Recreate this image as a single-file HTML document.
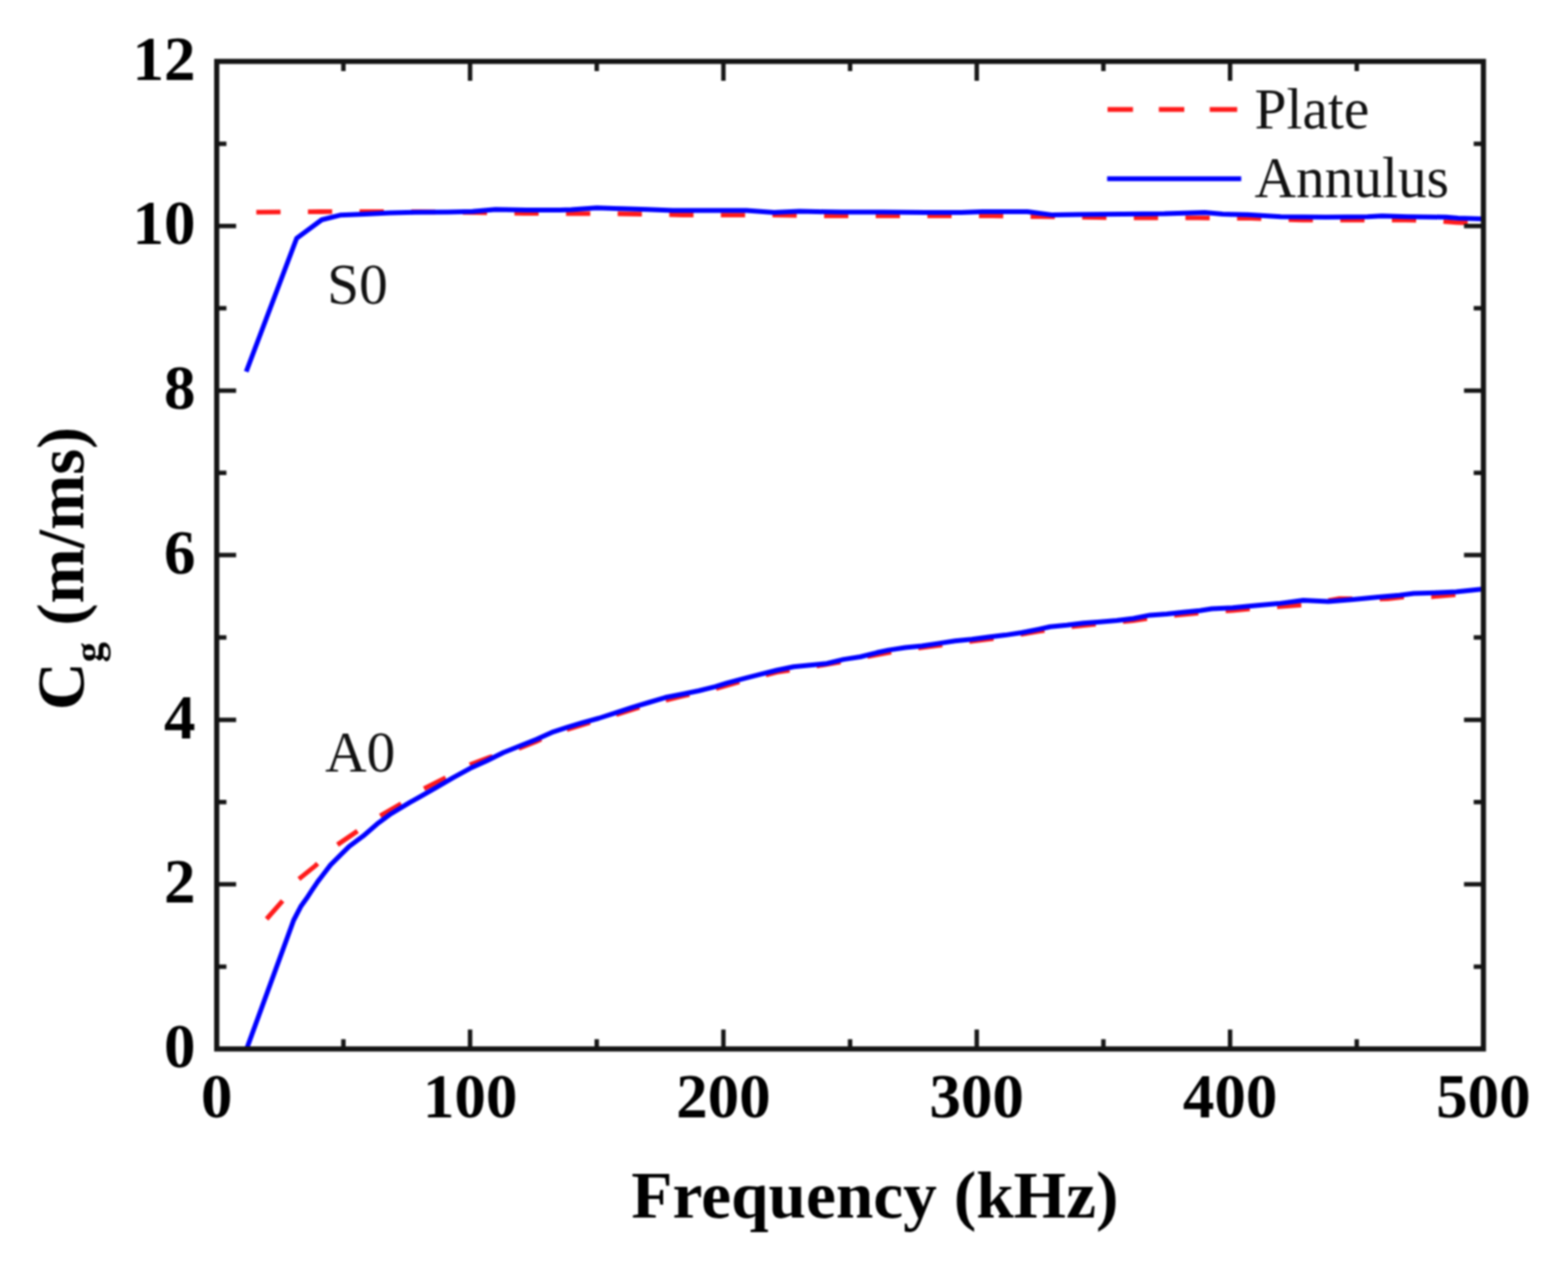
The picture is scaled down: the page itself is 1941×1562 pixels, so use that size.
<!DOCTYPE html>
<html><head><meta charset="utf-8"><style>
html,body{margin:0;padding:0;background:#fff;width:1941px;height:1562px;overflow:hidden;}
svg{display:block;filter:blur(0.9px);}
text{font-family:"Liberation Serif","Times New Roman",serif;}
</style></head><body>
<svg width="1941" height="1562" viewBox="0 0 1941 1562">
<rect width="1941" height="1562" fill="#fff"/>
<polyline points="317.3,262.6 347.0,262.3 397.0,262.0 460.0,261.8 520.0,262.2 590.0,263.2 650.0,264.1 765.0,264.5 845.0,266.0 956.0,266.1 1035.0,267.2 1165.0,267.2 1228.0,267.2 1288.0,268.2 1357.0,269.2 1420.0,269.7 1483.0,269.7 1549.0,270.2 1612.0,272.3 1676.0,272.3 1740.0,272.3 1771.0,273.0 1803.0,275.3 1836.3,276.5" fill="none" stroke="#ff1a1a" stroke-width="5.8" stroke-dasharray="30 33.9"/>
<polyline points="330.0,1137.5 349.0,1115.8 362.4,1098.5 368.0,1089.5 390.6,1071.4 417.0,1046.0 442.0,1029.0 470.0,1010.0 497.0,994.5 523.0,977.0 553.0,962.0 582.0,946.5 605.5,937.5 643.6,925.8 664.3,917.5 684.9,908.3 720.6,897.2 761.8,884.8 803.0,872.0 844.3,861.7 885.5,852.4 920.6,842.3 961.8,832.0 1003.0,825.8 1044.3,818.6 1085.5,810.3 1120.6,804.0 1161.8,798.9 1203.0,793.7 1244.3,788.6 1285.5,781.4 1320.6,776.3 1361.8,772.2 1403.0,768.0 1444.3,762.4 1485.5,758.7 1525.8,755.5 1551.5,753.2 1582.4,750.9 1614.0,748.6 1658.0,741.0 1690.0,741.5 1718.0,741.2 1741.0,738.5 1772.0,738.5 1804.0,735.9 1836.3,733.0" fill="none" stroke="#ff1a1a" stroke-width="5.8" stroke-dasharray="30 33.9"/>
<polyline points="304.8,460.0 367.3,294.8 398.3,272.0 420.9,266.3 451.8,265.0 482.7,263.6 513.6,262.8 554.9,262.5 585.0,261.8 613.3,259.2 651.8,259.9 693.0,259.9 707.3,259.6 738.7,257.3 770.0,258.3 801.4,259.2 832.8,260.5 924.0,260.5 958.2,263.0 989.6,261.6 1041.5,262.5 1093.0,262.5 1144.6,263.0 1190.0,263.0 1215.8,262.0 1271.8,262.0 1303.2,266.1 1334.5,265.6 1390.0,265.1 1441.5,264.6 1491.3,263.0 1513.6,265.1 1544.6,265.8 1585.4,268.2 1641.5,268.7 1693.0,268.2 1710.9,267.2 1742.2,268.2 1790.0,268.7 1804.9,270.0 1836.3,271.0" fill="none" stroke="#0000ff" stroke-width="6" stroke-linejoin="round"/>
<polyline points="305.4,1298.0 363.5,1139.0 372.3,1122.1 379.3,1112.3 386.3,1101.7 393.4,1091.1 400.4,1082.0 409.1,1070.6 420.6,1059.1 432.2,1047.6 449.4,1034.9 466.7,1019.9 484.0,1007.2 507.0,993.4 520.0,986.1 540.6,974.3 561.2,962.4 581.8,951.1 602.4,941.8 623.0,931.5 643.6,923.3 664.3,915.0 684.9,905.8 700.0,900.9 720.6,894.7 741.2,889.0 761.8,882.3 782.4,875.6 803.0,869.5 823.6,863.3 844.3,859.2 864.9,855.0 885.5,849.9 900.0,845.4 920.6,839.8 941.2,834.6 961.8,829.5 982.4,825.3 1003.0,823.3 1023.6,821.2 1044.3,816.1 1064.9,813.0 1085.5,807.8 1100.0,804.6 1120.6,801.5 1141.2,799.5 1161.8,796.4 1182.4,793.3 1203.0,791.2 1223.6,788.6 1244.3,786.1 1264.9,783.0 1285.5,778.9 1300.0,775.8 1320.6,773.8 1341.2,771.2 1361.8,769.7 1382.4,768.1 1403.0,765.5 1423.6,761.4 1444.3,759.9 1464.9,757.8 1485.5,755.8 1500.0,753.5 1525.8,752.2 1551.5,749.7 1582.4,747.1 1613.3,743.0 1644.3,744.5 1675.2,741.9 1706.3,739.0 1732.5,736.8 1750.0,734.6 1776.3,733.7 1802.6,732.4 1836.3,729.0" fill="none" stroke="#0000ff" stroke-width="6" stroke-linejoin="round"/>
<path d="M425.1 1298.3V1286.3M425.1 76.0V88.0M581.9 1298.3V1274.3M581.9 76.0V100.0M738.7 1298.3V1286.3M738.7 76.0V88.0M895.5 1298.3V1274.3M895.5 76.0V100.0M1052.3 1298.3V1286.3M1052.3 76.0V88.0M1209.1 1298.3V1274.3M1209.1 76.0V100.0M1365.9 1298.3V1286.3M1365.9 76.0V88.0M1522.7 1298.3V1274.3M1522.7 76.0V100.0M1679.5 1298.3V1286.3M1679.5 76.0V88.0M268.3 1196.4H280.3M1836.3 1196.4H1824.3M268.3 1094.6H292.3M1836.3 1094.6H1812.3M268.3 992.7H280.3M1836.3 992.7H1824.3M268.3 890.9H292.3M1836.3 890.9H1812.3M268.3 789.0H280.3M1836.3 789.0H1824.3M268.3 687.1H292.3M1836.3 687.1H1812.3M268.3 585.3H280.3M1836.3 585.3H1824.3M268.3 483.4H292.3M1836.3 483.4H1812.3M268.3 381.6H280.3M1836.3 381.6H1824.3M268.3 279.7H292.3M1836.3 279.7H1812.3M268.3 177.9H280.3M1836.3 177.9H1824.3" stroke="#161616" stroke-width="5.5" fill="none"/>
<rect x="268.3" y="76.0" width="1568.0" height="1222.3" fill="none" stroke="#141414" stroke-width="6.4"/>
<g font-weight="bold" font-size="78" fill="#000" text-anchor="end"><text x="242" y="1320.9">0</text><text x="242" y="1117.2">2</text><text x="242" y="913.5">4</text><text x="242" y="709.8">6</text><text x="242" y="506.0">8</text><text x="242" y="302.3">10</text><text x="242" y="98.6">12</text></g>
<g font-weight="bold" font-size="78" fill="#000" text-anchor="middle"><text x="268.3" y="1382.9">0</text><text x="581.9" y="1382.9">100</text><text x="895.5" y="1382.9">200</text><text x="1209.1" y="1382.9">300</text><text x="1522.7" y="1382.9">400</text><text x="1836.3" y="1382.9">500</text></g>
<text x="781.5" y="1506.5" font-weight="bold" font-size="83.4" fill="#000">Frequency (kHz)</text>
<text transform="translate(103,879) rotate(-90)" font-weight="bold" font-size="82" fill="#000">C<tspan font-size="50" dy="23.4">g</tspan><tspan dy="-23.4"> (m/ms)</tspan></text>
<path d="M1371 135.5H1402.5M1434.5 135.5H1466M1497.5 135.5H1531.5" stroke="#ff1a1a" stroke-width="5.8" fill="none"/>
<line x1="1370.5" y1="221.2" x2="1536.5" y2="221.2" stroke="#0000ff" stroke-width="6"/>
<g font-size="71" fill="#111">
<text x="1553" y="158.7">Plate</text>
<text x="1553" y="243.5">Annulus</text>
</g>
<g font-size="71" fill="#111">
<text x="405" y="375.5">S0</text>
<text x="402.5" y="955">A0</text>
</g>
</svg>
</body></html>
